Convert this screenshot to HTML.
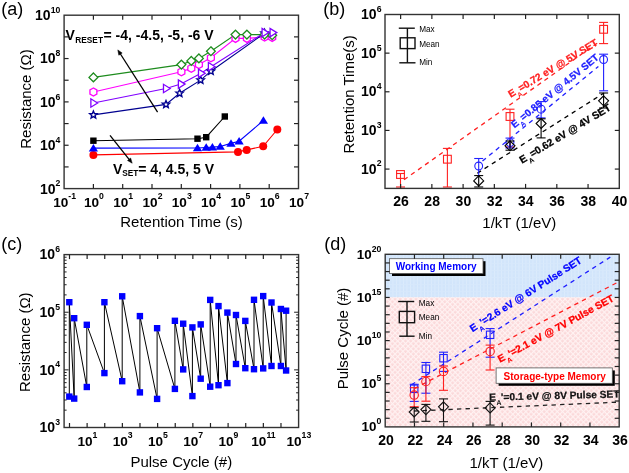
<!DOCTYPE html>
<html><head><meta charset="utf-8"><style>
html,body{margin:0;padding:0;background:#fff;}
svg{display:block;font-family:"Liberation Sans", sans-serif;filter:blur(0.3px);}
</style></head><body>
<svg width="629" height="473" viewBox="0 0 629 473" font-family='"Liberation Sans", sans-serif'>
<rect width="629" height="473" fill="#fff"/>
<text x="1.30" y="14.90" font-size="18" font-weight="normal" text-anchor="start" fill="#000" >(a)</text>
<polyline points="93.40,77.40 181.40,64.60 191.30,60.90 198.90,58.40 210.90,51.20 235.50,34.60 246.90,34.60 264.60,34.60 272.20,35.30" fill="none" stroke="#1e8c1e" stroke-width="1.1" stroke-linejoin="miter"/>
<polyline points="93.40,92.00 181.40,71.80 191.30,68.30 198.90,64.60 210.90,57.80 235.50,38.40 246.90,38.40 264.60,37.00 272.20,37.40" fill="none" stroke="#ff00ff" stroke-width="1.1" stroke-linejoin="miter"/>
<polyline points="93.40,114.90 166.00,104.40 179.60,93.30 200.60,80.10 210.90,71.20 264.60,33.20" fill="none" stroke="#000090" stroke-width="1.1" stroke-linejoin="miter"/>
<polyline points="93.40,103.00 166.00,88.50 180.90,84.10 201.00,73.30 210.90,66.70 264.60,32.60 272.60,32.60" fill="none" stroke="#8000ff" stroke-width="1.1" stroke-linejoin="miter"/>
<polygon points="93.40,111.00 92.37,113.48 89.69,113.69 91.73,115.44 91.11,118.06 93.40,116.66 95.69,118.06 95.07,115.44 97.11,113.69 94.43,113.48" fill="#fff" stroke="#000090" stroke-width="1.4" stroke-linejoin="miter"/>
<polygon points="166.00,100.50 164.97,102.98 162.29,103.19 164.33,104.94 163.71,107.56 166.00,106.16 168.29,107.56 167.67,104.94 169.71,103.19 167.03,102.98" fill="#fff" stroke="#000090" stroke-width="1.4" stroke-linejoin="miter"/>
<polygon points="179.60,89.40 178.57,91.88 175.89,92.09 177.93,93.84 177.31,96.46 179.60,95.05 181.89,96.46 181.27,93.84 183.31,92.09 180.63,91.88" fill="#fff" stroke="#000090" stroke-width="1.4" stroke-linejoin="miter"/>
<polygon points="200.60,76.20 199.57,78.68 196.89,78.89 198.93,80.64 198.31,83.26 200.60,81.85 202.89,83.26 202.27,80.64 204.31,78.89 201.63,78.68" fill="#fff" stroke="#000090" stroke-width="1.4" stroke-linejoin="miter"/>
<polygon points="210.90,67.30 209.87,69.78 207.19,69.99 209.23,71.74 208.61,74.36 210.90,72.95 213.19,74.36 212.57,71.74 214.61,69.99 211.93,69.78" fill="#fff" stroke="#000090" stroke-width="1.4" stroke-linejoin="miter"/>
<polygon points="264.60,29.30 263.57,31.78 260.89,31.99 262.93,33.74 262.31,36.36 264.60,34.96 266.89,36.36 266.27,33.74 268.31,31.99 265.63,31.78" fill="#fff" stroke="#000090" stroke-width="1.4" stroke-linejoin="miter"/>
<polygon points="93.40,88.00 89.94,90.00 89.94,94.00 93.40,96.00 96.86,94.00 96.86,90.00" fill="#fff" stroke="#ff00ff" stroke-width="1.3" stroke-linejoin="miter"/>
<polygon points="181.40,67.80 177.94,69.80 177.94,73.80 181.40,75.80 184.86,73.80 184.86,69.80" fill="#fff" stroke="#ff00ff" stroke-width="1.3" stroke-linejoin="miter"/>
<polygon points="191.30,64.30 187.84,66.30 187.84,70.30 191.30,72.30 194.76,70.30 194.76,66.30" fill="#fff" stroke="#ff00ff" stroke-width="1.3" stroke-linejoin="miter"/>
<polygon points="198.90,60.60 195.44,62.60 195.44,66.60 198.90,68.60 202.36,66.60 202.36,62.60" fill="#fff" stroke="#ff00ff" stroke-width="1.3" stroke-linejoin="miter"/>
<polygon points="210.90,53.80 207.44,55.80 207.44,59.80 210.90,61.80 214.36,59.80 214.36,55.80" fill="#fff" stroke="#ff00ff" stroke-width="1.3" stroke-linejoin="miter"/>
<polygon points="235.50,34.40 232.04,36.40 232.04,40.40 235.50,42.40 238.96,40.40 238.96,36.40" fill="#fff" stroke="#ff00ff" stroke-width="1.3" stroke-linejoin="miter"/>
<polygon points="246.90,34.40 243.44,36.40 243.44,40.40 246.90,42.40 250.36,40.40 250.36,36.40" fill="#fff" stroke="#ff00ff" stroke-width="1.3" stroke-linejoin="miter"/>
<polygon points="264.60,33.00 261.14,35.00 261.14,39.00 264.60,41.00 268.06,39.00 268.06,35.00" fill="#fff" stroke="#ff00ff" stroke-width="1.3" stroke-linejoin="miter"/>
<polygon points="272.20,33.40 268.74,35.40 268.74,39.40 272.20,41.40 275.66,39.40 275.66,35.40" fill="#fff" stroke="#ff00ff" stroke-width="1.3" stroke-linejoin="miter"/>
<polygon points="93.40,73.00 97.80,77.40 93.40,81.80 89.00,77.40" fill="#fff" stroke="#1e8c1e" stroke-width="1.3" stroke-linejoin="miter"/>
<polygon points="181.40,60.20 185.80,64.60 181.40,69.00 177.00,64.60" fill="#fff" stroke="#1e8c1e" stroke-width="1.3" stroke-linejoin="miter"/>
<polygon points="191.30,56.50 195.70,60.90 191.30,65.30 186.90,60.90" fill="#fff" stroke="#1e8c1e" stroke-width="1.3" stroke-linejoin="miter"/>
<polygon points="198.90,54.00 203.30,58.40 198.90,62.80 194.50,58.40" fill="#fff" stroke="#1e8c1e" stroke-width="1.3" stroke-linejoin="miter"/>
<polygon points="210.90,46.80 215.30,51.20 210.90,55.60 206.50,51.20" fill="#fff" stroke="#1e8c1e" stroke-width="1.3" stroke-linejoin="miter"/>
<polygon points="235.50,30.20 239.90,34.60 235.50,39.00 231.10,34.60" fill="#fff" stroke="#1e8c1e" stroke-width="1.3" stroke-linejoin="miter"/>
<polygon points="246.90,30.20 251.30,34.60 246.90,39.00 242.50,34.60" fill="#fff" stroke="#1e8c1e" stroke-width="1.3" stroke-linejoin="miter"/>
<polygon points="264.60,30.20 269.00,34.60 264.60,39.00 260.20,34.60" fill="#fff" stroke="#1e8c1e" stroke-width="1.3" stroke-linejoin="miter"/>
<polygon points="272.20,30.90 276.60,35.30 272.20,39.70 267.80,35.30" fill="#fff" stroke="#1e8c1e" stroke-width="1.3" stroke-linejoin="miter"/>
<polygon points="97.60,103.00 90.88,98.80 90.88,107.20" fill="#fff" stroke="#8000ff" stroke-width="1.3" stroke-linejoin="miter"/>
<polygon points="170.20,88.50 163.48,84.30 163.48,92.70" fill="#fff" stroke="#8000ff" stroke-width="1.3" stroke-linejoin="miter"/>
<polygon points="185.10,84.10 178.38,79.90 178.38,88.30" fill="#fff" stroke="#8000ff" stroke-width="1.3" stroke-linejoin="miter"/>
<polygon points="205.20,73.30 198.48,69.10 198.48,77.50" fill="#fff" stroke="#8000ff" stroke-width="1.3" stroke-linejoin="miter"/>
<polygon points="215.10,66.70 208.38,62.50 208.38,70.90" fill="#fff" stroke="#8000ff" stroke-width="1.3" stroke-linejoin="miter"/>
<polygon points="268.80,32.60 262.08,28.40 262.08,36.80" fill="#fff" stroke="#8000ff" stroke-width="1.3" stroke-linejoin="miter"/>
<polygon points="276.80,32.60 270.08,28.40 270.08,36.80" fill="#fff" stroke="#8000ff" stroke-width="1.3" stroke-linejoin="miter"/>
<polyline points="93.40,140.70 197.50,138.70 206.20,137.20 224.80,116.50" fill="none" stroke="#000" stroke-width="1.1" stroke-linejoin="miter"/>
<polyline points="93.40,148.10 197.50,148.00 206.20,147.50 212.40,147.10 220.20,146.50 231.00,143.40 239.10,141.20 263.40,120.50" fill="none" stroke="#0000ff" stroke-width="1.1" stroke-linejoin="miter"/>
<polyline points="93.40,154.90 238.00,151.90 246.70,149.90 263.20,146.30 277.30,129.50" fill="none" stroke="#ff0000" stroke-width="1.1" stroke-linejoin="miter"/>
<circle cx="93.40" cy="154.90" r="4.0" fill="#ff0000"/>
<circle cx="238.00" cy="151.90" r="4.0" fill="#ff0000"/>
<circle cx="246.70" cy="149.90" r="4.0" fill="#ff0000"/>
<circle cx="263.20" cy="146.30" r="4.0" fill="#ff0000"/>
<circle cx="277.30" cy="129.50" r="4.0" fill="#ff0000"/>
<polygon points="93.40,143.92 98.02,151.40 88.78,151.40" fill="#0000ff" stroke="none" stroke-width="0" stroke-linejoin="miter"/>
<polygon points="197.50,143.82 202.12,151.30 192.88,151.30" fill="#0000ff" stroke="none" stroke-width="0" stroke-linejoin="miter"/>
<polygon points="206.20,143.32 210.82,150.80 201.58,150.80" fill="#0000ff" stroke="none" stroke-width="0" stroke-linejoin="miter"/>
<polygon points="212.40,142.92 217.02,150.40 207.78,150.40" fill="#0000ff" stroke="none" stroke-width="0" stroke-linejoin="miter"/>
<polygon points="220.20,142.32 224.82,149.80 215.58,149.80" fill="#0000ff" stroke="none" stroke-width="0" stroke-linejoin="miter"/>
<polygon points="231.00,139.22 235.62,146.70 226.38,146.70" fill="#0000ff" stroke="none" stroke-width="0" stroke-linejoin="miter"/>
<polygon points="239.10,137.02 243.72,144.50 234.48,144.50" fill="#0000ff" stroke="none" stroke-width="0" stroke-linejoin="miter"/>
<polygon points="263.40,116.32 268.02,123.80 258.78,123.80" fill="#0000ff" stroke="none" stroke-width="0" stroke-linejoin="miter"/>
<rect x="90.20" y="137.50" width="6.4" height="6.4" fill="#000"/>
<rect x="194.30" y="135.50" width="6.4" height="6.4" fill="#000"/>
<rect x="203.00" y="134.00" width="6.4" height="6.4" fill="#000"/>
<rect x="221.60" y="113.30" width="6.4" height="6.4" fill="#000"/>
<line x1="157.60" y1="112.20" x2="119.95" y2="53.27" stroke="#000" stroke-width="1.3" />
<polygon points="117.80,49.90 122.18,53.04 118.81,55.19" fill="#000" stroke="#000" stroke-width="0.5" stroke-linejoin="miter"/>
<line x1="110.00" y1="135.40" x2="129.70" y2="160.07" stroke="#000" stroke-width="1.3" />
<polygon points="132.20,163.20 127.52,160.54 130.64,158.04" fill="#000" stroke="#000" stroke-width="0.5" stroke-linejoin="miter"/>
<text x="65.60" y="39.80" font-size="14" font-weight="bold" text-anchor="start" fill="#000" >V</text>
<text x="75.30" y="42.70" font-size="8.3" font-weight="bold" text-anchor="start" fill="#000" >RESET</text>
<text x="103.50" y="39.80" font-size="14" font-weight="bold" text-anchor="start" fill="#000" >= -4, -4.5, -5, -6 V</text>
<text x="113.00" y="173.50" font-size="14" font-weight="bold" text-anchor="start" fill="#000" >V</text>
<text x="122.30" y="176.30" font-size="8.3" font-weight="bold" text-anchor="start" fill="#000" >SET</text>
<text x="138.20" y="173.50" font-size="14" font-weight="bold" text-anchor="start" fill="#000" >= 4, 4.5, 5 V</text>
<rect x="64.10" y="15.20" width="234.40" height="173.40" fill="none" stroke="#333" stroke-width="1.4"/>
<line x1="93.40" y1="188.60" x2="93.40" y2="184.10" stroke="#222" stroke-width="1.2" />
<line x1="93.40" y1="15.20" x2="93.40" y2="19.70" stroke="#222" stroke-width="1.2" />
<line x1="122.70" y1="188.60" x2="122.70" y2="184.10" stroke="#222" stroke-width="1.2" />
<line x1="122.70" y1="15.20" x2="122.70" y2="19.70" stroke="#222" stroke-width="1.2" />
<line x1="152.00" y1="188.60" x2="152.00" y2="184.10" stroke="#222" stroke-width="1.2" />
<line x1="152.00" y1="15.20" x2="152.00" y2="19.70" stroke="#222" stroke-width="1.2" />
<line x1="181.30" y1="188.60" x2="181.30" y2="184.10" stroke="#222" stroke-width="1.2" />
<line x1="181.30" y1="15.20" x2="181.30" y2="19.70" stroke="#222" stroke-width="1.2" />
<line x1="210.60" y1="188.60" x2="210.60" y2="184.10" stroke="#222" stroke-width="1.2" />
<line x1="210.60" y1="15.20" x2="210.60" y2="19.70" stroke="#222" stroke-width="1.2" />
<line x1="239.90" y1="188.60" x2="239.90" y2="184.10" stroke="#222" stroke-width="1.2" />
<line x1="239.90" y1="15.20" x2="239.90" y2="19.70" stroke="#222" stroke-width="1.2" />
<line x1="269.20" y1="188.60" x2="269.20" y2="184.10" stroke="#222" stroke-width="1.2" />
<line x1="269.20" y1="15.20" x2="269.20" y2="19.70" stroke="#222" stroke-width="1.2" />
<line x1="64.10" y1="166.92" x2="68.60" y2="166.92" stroke="#222" stroke-width="1.2" />
<line x1="298.50" y1="166.92" x2="294.00" y2="166.92" stroke="#222" stroke-width="1.2" />
<line x1="64.10" y1="145.25" x2="68.60" y2="145.25" stroke="#222" stroke-width="1.2" />
<line x1="298.50" y1="145.25" x2="294.00" y2="145.25" stroke="#222" stroke-width="1.2" />
<line x1="64.10" y1="123.57" x2="68.60" y2="123.57" stroke="#222" stroke-width="1.2" />
<line x1="298.50" y1="123.57" x2="294.00" y2="123.57" stroke="#222" stroke-width="1.2" />
<line x1="64.10" y1="101.90" x2="68.60" y2="101.90" stroke="#222" stroke-width="1.2" />
<line x1="298.50" y1="101.90" x2="294.00" y2="101.90" stroke="#222" stroke-width="1.2" />
<line x1="64.10" y1="80.22" x2="68.60" y2="80.22" stroke="#222" stroke-width="1.2" />
<line x1="298.50" y1="80.22" x2="294.00" y2="80.22" stroke="#222" stroke-width="1.2" />
<line x1="64.10" y1="58.55" x2="68.60" y2="58.55" stroke="#222" stroke-width="1.2" />
<line x1="298.50" y1="58.55" x2="294.00" y2="58.55" stroke="#222" stroke-width="1.2" />
<line x1="64.10" y1="36.88" x2="68.60" y2="36.88" stroke="#222" stroke-width="1.2" />
<line x1="298.50" y1="36.88" x2="294.00" y2="36.88" stroke="#222" stroke-width="1.2" />
<text x="53.17" y="206.60" font-size="13.6" font-weight="bold" text-anchor="start" fill="#000" >10</text>
<text x="68.29" y="199.30" font-size="8.7" font-weight="bold" text-anchor="start" fill="#000" >-1</text>
<text x="83.92" y="206.60" font-size="13.6" font-weight="bold" text-anchor="start" fill="#000" >10</text>
<text x="99.04" y="199.30" font-size="8.7" font-weight="bold" text-anchor="start" fill="#000" >0</text>
<text x="113.22" y="206.60" font-size="13.6" font-weight="bold" text-anchor="start" fill="#000" >10</text>
<text x="128.34" y="199.30" font-size="8.7" font-weight="bold" text-anchor="start" fill="#000" >1</text>
<text x="142.52" y="206.60" font-size="13.6" font-weight="bold" text-anchor="start" fill="#000" >10</text>
<text x="157.64" y="199.30" font-size="8.7" font-weight="bold" text-anchor="start" fill="#000" >2</text>
<text x="171.82" y="206.60" font-size="13.6" font-weight="bold" text-anchor="start" fill="#000" >10</text>
<text x="186.94" y="199.30" font-size="8.7" font-weight="bold" text-anchor="start" fill="#000" >3</text>
<text x="201.12" y="206.60" font-size="13.6" font-weight="bold" text-anchor="start" fill="#000" >10</text>
<text x="216.24" y="199.30" font-size="8.7" font-weight="bold" text-anchor="start" fill="#000" >4</text>
<text x="230.42" y="206.60" font-size="13.6" font-weight="bold" text-anchor="start" fill="#000" >10</text>
<text x="245.54" y="199.30" font-size="8.7" font-weight="bold" text-anchor="start" fill="#000" >5</text>
<text x="259.72" y="206.60" font-size="13.6" font-weight="bold" text-anchor="start" fill="#000" >10</text>
<text x="274.84" y="199.30" font-size="8.7" font-weight="bold" text-anchor="start" fill="#000" >6</text>
<text x="289.02" y="206.60" font-size="13.6" font-weight="bold" text-anchor="start" fill="#000" >10</text>
<text x="304.14" y="199.30" font-size="8.7" font-weight="bold" text-anchor="start" fill="#000" >7</text>
<text x="39.89" y="193.50" font-size="14" font-weight="bold" text-anchor="start" fill="#000" >10</text>
<text x="55.46" y="186.20" font-size="8.7" font-weight="bold" text-anchor="start" fill="#000" >2</text>
<text x="39.89" y="150.15" font-size="14" font-weight="bold" text-anchor="start" fill="#000" >10</text>
<text x="55.46" y="142.85" font-size="8.7" font-weight="bold" text-anchor="start" fill="#000" >4</text>
<text x="39.89" y="106.80" font-size="14" font-weight="bold" text-anchor="start" fill="#000" >10</text>
<text x="55.46" y="99.50" font-size="8.7" font-weight="bold" text-anchor="start" fill="#000" >6</text>
<text x="39.89" y="63.45" font-size="14" font-weight="bold" text-anchor="start" fill="#000" >10</text>
<text x="55.46" y="56.15" font-size="8.7" font-weight="bold" text-anchor="start" fill="#000" >8</text>
<text x="35.06" y="20.10" font-size="14" font-weight="bold" text-anchor="start" fill="#000" >10</text>
<text x="50.63" y="12.80" font-size="8.7" font-weight="bold" text-anchor="start" fill="#000" >10</text>
<text x="181.50" y="227.30" font-size="15" font-weight="normal" text-anchor="middle" fill="#000" >Retention Time (s)</text>
<text x="31.00" y="99.00" font-size="15" font-weight="normal" text-anchor="middle" fill="#000" transform="rotate(-90 31.00 99.00)" >Resistance (Ω)</text>
<text x="323.20" y="14.90" font-size="18" font-weight="normal" text-anchor="start" fill="#000" >(b)</text>
<line x1="404.00" y1="179.80" x2="597.80" y2="42.70" stroke="#ff2020" stroke-width="1.3" stroke-dasharray="4.4,4.2" />
<line x1="482.50" y1="161.00" x2="598.40" y2="66.50" stroke="#2020ff" stroke-width="1.3" stroke-dasharray="4.4,4.2" />
<line x1="477.30" y1="173.20" x2="604.00" y2="93.00" stroke="#000" stroke-width="1.3" stroke-dasharray="4.4,4.2" />
<line x1="400.50" y1="173.50" x2="400.50" y2="187.00" stroke="#ff2020" stroke-width="1.1" />
<line x1="396.00" y1="173.50" x2="405.00" y2="173.50" stroke="#ff2020" stroke-width="1.1" />
<line x1="396.00" y1="187.00" x2="405.00" y2="187.00" stroke="#ff2020" stroke-width="1.1" />
<rect x="396.60" y="170.60" width="7.8" height="7.8" fill="none" stroke="#ff2020" stroke-width="1.1"/>
<line x1="447.40" y1="148.40" x2="447.40" y2="187.00" stroke="#ff2020" stroke-width="1.1" />
<line x1="442.90" y1="148.40" x2="451.90" y2="148.40" stroke="#ff2020" stroke-width="1.1" />
<line x1="442.90" y1="187.00" x2="451.90" y2="187.00" stroke="#ff2020" stroke-width="1.1" />
<rect x="443.50" y="155.30" width="7.8" height="7.8" fill="none" stroke="#ff2020" stroke-width="1.1"/>
<line x1="510.00" y1="109.20" x2="510.00" y2="147.00" stroke="#ff2020" stroke-width="1.1" />
<line x1="505.50" y1="109.20" x2="514.50" y2="109.20" stroke="#ff2020" stroke-width="1.1" />
<line x1="505.50" y1="147.00" x2="514.50" y2="147.00" stroke="#ff2020" stroke-width="1.1" />
<rect x="506.10" y="112.60" width="7.8" height="7.8" fill="none" stroke="#ff2020" stroke-width="1.1"/>
<line x1="603.60" y1="22.40" x2="603.60" y2="43.60" stroke="#ff2020" stroke-width="1.1" />
<line x1="599.10" y1="22.40" x2="608.10" y2="22.40" stroke="#ff2020" stroke-width="1.1" />
<line x1="599.10" y1="43.60" x2="608.10" y2="43.60" stroke="#ff2020" stroke-width="1.1" />
<rect x="599.70" y="25.40" width="7.8" height="7.8" fill="none" stroke="#ff2020" stroke-width="1.1"/>
<line x1="478.70" y1="158.50" x2="478.70" y2="175.50" stroke="#2020ff" stroke-width="1.1" />
<line x1="474.20" y1="158.50" x2="483.20" y2="158.50" stroke="#2020ff" stroke-width="1.1" />
<circle cx="478.70" cy="166.00" r="3.9" fill="none" stroke="#2020ff" stroke-width="1.1"/>
<line x1="510.00" y1="138.10" x2="510.00" y2="148.00" stroke="#2020ff" stroke-width="1.1" />
<line x1="505.50" y1="138.10" x2="514.50" y2="138.10" stroke="#2020ff" stroke-width="1.1" />
<line x1="505.50" y1="148.00" x2="514.50" y2="148.00" stroke="#2020ff" stroke-width="1.1" />
<circle cx="510.00" cy="142.60" r="3.9" fill="none" stroke="#2020ff" stroke-width="1.1"/>
<line x1="541.10" y1="101.60" x2="541.10" y2="117.90" stroke="#2020ff" stroke-width="1.1" />
<line x1="536.60" y1="101.60" x2="545.60" y2="101.60" stroke="#2020ff" stroke-width="1.1" />
<line x1="536.60" y1="117.90" x2="545.60" y2="117.90" stroke="#2020ff" stroke-width="1.1" />
<circle cx="541.10" cy="109.20" r="3.9" fill="none" stroke="#2020ff" stroke-width="1.1"/>
<line x1="603.60" y1="54.20" x2="603.60" y2="90.80" stroke="#2020ff" stroke-width="1.1" />
<line x1="599.10" y1="54.20" x2="608.10" y2="54.20" stroke="#2020ff" stroke-width="1.1" />
<line x1="599.10" y1="90.80" x2="608.10" y2="90.80" stroke="#2020ff" stroke-width="1.1" />
<circle cx="603.60" cy="59.50" r="3.9" fill="none" stroke="#2020ff" stroke-width="1.1"/>
<line x1="478.70" y1="175.60" x2="478.70" y2="187.00" stroke="#000" stroke-width="1.1" />
<line x1="474.20" y1="175.60" x2="483.20" y2="175.60" stroke="#000" stroke-width="1.1" />
<line x1="474.20" y1="187.00" x2="483.20" y2="187.00" stroke="#000" stroke-width="1.1" />
<polygon points="478.70,175.90 483.70,180.90 478.70,185.90 473.70,180.90" fill="none" stroke="#000" stroke-width="1.1" stroke-linejoin="miter"/>
<line x1="510.00" y1="141.00" x2="510.00" y2="150.20" stroke="#000" stroke-width="1.1" />
<line x1="505.50" y1="141.00" x2="514.50" y2="141.00" stroke="#000" stroke-width="1.1" />
<line x1="505.50" y1="150.20" x2="514.50" y2="150.20" stroke="#000" stroke-width="1.1" />
<polygon points="510.00,140.80 515.00,145.80 510.00,150.80 505.00,145.80" fill="none" stroke="#000" stroke-width="1.1" stroke-linejoin="miter"/>
<line x1="541.10" y1="118.80" x2="541.10" y2="137.90" stroke="#000" stroke-width="1.1" />
<line x1="536.60" y1="118.80" x2="545.60" y2="118.80" stroke="#000" stroke-width="1.1" />
<line x1="536.60" y1="137.90" x2="545.60" y2="137.90" stroke="#000" stroke-width="1.1" />
<polygon points="541.10,118.50 546.10,123.50 541.10,128.50 536.10,123.50" fill="none" stroke="#000" stroke-width="1.1" stroke-linejoin="miter"/>
<line x1="603.60" y1="93.00" x2="603.60" y2="108.00" stroke="#000" stroke-width="1.1" />
<line x1="599.10" y1="93.00" x2="608.10" y2="93.00" stroke="#000" stroke-width="1.1" />
<line x1="599.10" y1="108.00" x2="608.10" y2="108.00" stroke="#000" stroke-width="1.1" />
<polygon points="603.60,95.80 608.60,100.80 603.60,105.80 598.60,100.80" fill="none" stroke="#000" stroke-width="1.1" stroke-linejoin="miter"/>
<line x1="407.40" y1="28.20" x2="407.40" y2="62.80" stroke="#111" stroke-width="1.4" />
<line x1="398.80" y1="28.20" x2="414.80" y2="28.20" stroke="#111" stroke-width="1.4" />
<line x1="399.30" y1="62.80" x2="415.50" y2="62.80" stroke="#111" stroke-width="1.4" />
<rect x="400.2" y="37.8" width="14.8" height="10.8" fill="none" stroke="#111" stroke-width="1.4"/>
<text x="419.20" y="32.00" font-size="8.2" font-weight="normal" text-anchor="start" fill="#000" >Max</text>
<text x="419.20" y="46.60" font-size="8.2" font-weight="normal" text-anchor="start" fill="#000" >Mean</text>
<text x="419.20" y="64.90" font-size="8.2" font-weight="normal" text-anchor="start" fill="#000" >Min</text>
<g transform="translate(510.80 97.80) rotate(-31.2)">
<text x="0" y="0" font-size="10.1" font-weight="bold" fill="#ff2020" stroke="#ff2020" stroke-width="0.25">E</text>
<text x="7.07" y="4.24" font-size="6.87" font-weight="bold" fill="#ff2020">A</text>
<text x="11.72" y="0" font-size="10.1" font-weight="bold" fill="#ff2020" stroke="#ff2020" stroke-width="0.25">=0.72 eV @ 5V SET</text>
</g>
<g transform="translate(514.40 128.40) rotate(-39.3)">
<text x="0" y="0" font-size="10.0" font-weight="bold" fill="#2020ff" stroke="#2020ff" stroke-width="0.25">E</text>
<text x="7.00" y="4.20" font-size="6.80" font-weight="bold" fill="#2020ff">A</text>
<text x="11.60" y="0" font-size="10.0" font-weight="bold" fill="#2020ff" stroke="#2020ff" stroke-width="0.25">=0.85 eV @ 4.5V SET</text>
</g>
<g transform="translate(522.00 163.80) rotate(-31.2)">
<text x="0" y="0" font-size="10.3" font-weight="bold" fill="#000" stroke="#000" stroke-width="0.25">E</text>
<text x="7.21" y="4.33" font-size="7.00" font-weight="bold" fill="#000">A</text>
<text x="11.95" y="0" font-size="10.3" font-weight="bold" fill="#000" stroke="#000" stroke-width="0.25">=0.62 eV @ 4V SET</text>
</g>
<rect x="385.00" y="14.50" width="234.30" height="173.90" fill="none" stroke="#333" stroke-width="1.4"/>
<line x1="400.62" y1="188.40" x2="400.62" y2="183.90" stroke="#222" stroke-width="1.2" />
<line x1="400.62" y1="14.50" x2="400.62" y2="19.00" stroke="#222" stroke-width="1.2" />
<line x1="431.86" y1="188.40" x2="431.86" y2="183.90" stroke="#222" stroke-width="1.2" />
<line x1="431.86" y1="14.50" x2="431.86" y2="19.00" stroke="#222" stroke-width="1.2" />
<line x1="463.10" y1="188.40" x2="463.10" y2="183.90" stroke="#222" stroke-width="1.2" />
<line x1="463.10" y1="14.50" x2="463.10" y2="19.00" stroke="#222" stroke-width="1.2" />
<line x1="494.34" y1="188.40" x2="494.34" y2="183.90" stroke="#222" stroke-width="1.2" />
<line x1="494.34" y1="14.50" x2="494.34" y2="19.00" stroke="#222" stroke-width="1.2" />
<line x1="525.58" y1="188.40" x2="525.58" y2="183.90" stroke="#222" stroke-width="1.2" />
<line x1="525.58" y1="14.50" x2="525.58" y2="19.00" stroke="#222" stroke-width="1.2" />
<line x1="556.82" y1="188.40" x2="556.82" y2="183.90" stroke="#222" stroke-width="1.2" />
<line x1="556.82" y1="14.50" x2="556.82" y2="19.00" stroke="#222" stroke-width="1.2" />
<line x1="588.06" y1="188.40" x2="588.06" y2="183.90" stroke="#222" stroke-width="1.2" />
<line x1="588.06" y1="14.50" x2="588.06" y2="19.00" stroke="#222" stroke-width="1.2" />
<line x1="385.00" y1="169.08" x2="389.50" y2="169.08" stroke="#222" stroke-width="1.2" />
<line x1="619.30" y1="169.08" x2="614.80" y2="169.08" stroke="#222" stroke-width="1.2" />
<line x1="385.00" y1="130.43" x2="389.50" y2="130.43" stroke="#222" stroke-width="1.2" />
<line x1="619.30" y1="130.43" x2="614.80" y2="130.43" stroke="#222" stroke-width="1.2" />
<line x1="385.00" y1="91.79" x2="389.50" y2="91.79" stroke="#222" stroke-width="1.2" />
<line x1="619.30" y1="91.79" x2="614.80" y2="91.79" stroke="#222" stroke-width="1.2" />
<line x1="385.00" y1="53.14" x2="389.50" y2="53.14" stroke="#222" stroke-width="1.2" />
<line x1="619.30" y1="53.14" x2="614.80" y2="53.14" stroke="#222" stroke-width="1.2" />
<text x="400.92" y="205.60" font-size="14" font-weight="bold" text-anchor="middle" fill="#000" >26</text>
<text x="432.16" y="205.60" font-size="14" font-weight="bold" text-anchor="middle" fill="#000" >28</text>
<text x="463.40" y="205.60" font-size="14" font-weight="bold" text-anchor="middle" fill="#000" >30</text>
<text x="494.64" y="205.60" font-size="14" font-weight="bold" text-anchor="middle" fill="#000" >32</text>
<text x="525.88" y="205.60" font-size="14" font-weight="bold" text-anchor="middle" fill="#000" >34</text>
<text x="557.12" y="205.60" font-size="14" font-weight="bold" text-anchor="middle" fill="#000" >36</text>
<text x="588.36" y="205.60" font-size="14" font-weight="bold" text-anchor="middle" fill="#000" >38</text>
<text x="619.60" y="205.60" font-size="14" font-weight="bold" text-anchor="middle" fill="#000" >40</text>
<text x="361.09" y="173.78" font-size="14" font-weight="bold" text-anchor="start" fill="#000" >10</text>
<text x="376.66" y="166.48" font-size="8.7" font-weight="bold" text-anchor="start" fill="#000" >2</text>
<text x="361.09" y="135.13" font-size="14" font-weight="bold" text-anchor="start" fill="#000" >10</text>
<text x="376.66" y="127.83" font-size="8.7" font-weight="bold" text-anchor="start" fill="#000" >3</text>
<text x="361.09" y="96.49" font-size="14" font-weight="bold" text-anchor="start" fill="#000" >10</text>
<text x="376.66" y="89.19" font-size="8.7" font-weight="bold" text-anchor="start" fill="#000" >4</text>
<text x="361.09" y="57.84" font-size="14" font-weight="bold" text-anchor="start" fill="#000" >10</text>
<text x="376.66" y="50.54" font-size="8.7" font-weight="bold" text-anchor="start" fill="#000" >5</text>
<text x="361.09" y="19.20" font-size="14" font-weight="bold" text-anchor="start" fill="#000" >10</text>
<text x="376.66" y="11.90" font-size="8.7" font-weight="bold" text-anchor="start" fill="#000" >6</text>
<text x="519.30" y="227.50" font-size="15" font-weight="normal" text-anchor="middle" fill="#000" >1/kT (1/eV)</text>
<text x="353.80" y="94.40" font-size="15" font-weight="normal" text-anchor="middle" fill="#000" transform="rotate(-90 353.80 94.40)" >Retention Time(s)</text>
<text x="1.20" y="249.50" font-size="18" font-weight="normal" text-anchor="start" fill="#000" >(c)</text>
<polyline points="69.30,396.60 69.30,302.20 74.20,398.60 74.20,318.20 86.80,387.00 86.80,324.80 104.40,373.10 104.40,302.20 122.20,381.20 122.20,296.30 139.90,392.40 139.90,316.10 157.10,398.90 157.10,328.20 174.90,388.90 174.90,320.80 183.20,369.40 183.20,323.70 192.40,396.10 192.40,327.40 200.70,378.70 200.70,324.40 210.20,386.70 210.20,299.90 218.50,385.20 218.50,306.10 227.40,383.10 227.40,312.60 236.00,364.00 236.00,315.00 245.30,368.20 245.30,320.90 254.00,369.20 254.00,299.80 263.20,368.40 263.20,296.10 271.50,366.00 271.50,302.50 280.90,366.00 280.90,309.00 286.10,370.50 286.10,310.70" fill="none" stroke="#000" stroke-width="1.0" stroke-linejoin="miter"/>
<rect x="66.10" y="299.00" width="6.4" height="6.4" fill="#0000ff"/>
<rect x="66.10" y="393.40" width="6.4" height="6.4" fill="#0000ff"/>
<rect x="71.00" y="315.00" width="6.4" height="6.4" fill="#0000ff"/>
<rect x="71.00" y="395.40" width="6.4" height="6.4" fill="#0000ff"/>
<rect x="83.60" y="321.60" width="6.4" height="6.4" fill="#0000ff"/>
<rect x="83.60" y="383.80" width="6.4" height="6.4" fill="#0000ff"/>
<rect x="101.20" y="299.00" width="6.4" height="6.4" fill="#0000ff"/>
<rect x="101.20" y="369.90" width="6.4" height="6.4" fill="#0000ff"/>
<rect x="119.00" y="293.10" width="6.4" height="6.4" fill="#0000ff"/>
<rect x="119.00" y="378.00" width="6.4" height="6.4" fill="#0000ff"/>
<rect x="136.70" y="312.90" width="6.4" height="6.4" fill="#0000ff"/>
<rect x="136.70" y="389.20" width="6.4" height="6.4" fill="#0000ff"/>
<rect x="153.90" y="325.00" width="6.4" height="6.4" fill="#0000ff"/>
<rect x="153.90" y="395.70" width="6.4" height="6.4" fill="#0000ff"/>
<rect x="171.70" y="317.60" width="6.4" height="6.4" fill="#0000ff"/>
<rect x="171.70" y="385.70" width="6.4" height="6.4" fill="#0000ff"/>
<rect x="180.00" y="320.50" width="6.4" height="6.4" fill="#0000ff"/>
<rect x="180.00" y="366.20" width="6.4" height="6.4" fill="#0000ff"/>
<rect x="189.20" y="324.20" width="6.4" height="6.4" fill="#0000ff"/>
<rect x="189.20" y="392.90" width="6.4" height="6.4" fill="#0000ff"/>
<rect x="197.50" y="321.20" width="6.4" height="6.4" fill="#0000ff"/>
<rect x="197.50" y="375.50" width="6.4" height="6.4" fill="#0000ff"/>
<rect x="207.00" y="296.70" width="6.4" height="6.4" fill="#0000ff"/>
<rect x="207.00" y="383.50" width="6.4" height="6.4" fill="#0000ff"/>
<rect x="215.30" y="302.90" width="6.4" height="6.4" fill="#0000ff"/>
<rect x="215.30" y="382.00" width="6.4" height="6.4" fill="#0000ff"/>
<rect x="224.20" y="309.40" width="6.4" height="6.4" fill="#0000ff"/>
<rect x="224.20" y="379.90" width="6.4" height="6.4" fill="#0000ff"/>
<rect x="232.80" y="311.80" width="6.4" height="6.4" fill="#0000ff"/>
<rect x="232.80" y="360.80" width="6.4" height="6.4" fill="#0000ff"/>
<rect x="242.10" y="317.70" width="6.4" height="6.4" fill="#0000ff"/>
<rect x="242.10" y="365.00" width="6.4" height="6.4" fill="#0000ff"/>
<rect x="250.80" y="296.60" width="6.4" height="6.4" fill="#0000ff"/>
<rect x="250.80" y="366.00" width="6.4" height="6.4" fill="#0000ff"/>
<rect x="260.00" y="292.90" width="6.4" height="6.4" fill="#0000ff"/>
<rect x="260.00" y="365.20" width="6.4" height="6.4" fill="#0000ff"/>
<rect x="268.30" y="299.30" width="6.4" height="6.4" fill="#0000ff"/>
<rect x="268.30" y="362.80" width="6.4" height="6.4" fill="#0000ff"/>
<rect x="277.70" y="305.80" width="6.4" height="6.4" fill="#0000ff"/>
<rect x="277.70" y="362.80" width="6.4" height="6.4" fill="#0000ff"/>
<rect x="282.90" y="307.50" width="6.4" height="6.4" fill="#0000ff"/>
<rect x="282.90" y="367.30" width="6.4" height="6.4" fill="#0000ff"/>
<rect x="64.10" y="254.60" width="234.50" height="172.90" fill="none" stroke="#333" stroke-width="1.4"/>
<line x1="69.50" y1="427.50" x2="69.50" y2="423.00" stroke="#222" stroke-width="1.2" />
<line x1="69.50" y1="254.60" x2="69.50" y2="259.10" stroke="#222" stroke-width="1.2" />
<line x1="87.12" y1="427.50" x2="87.12" y2="423.00" stroke="#222" stroke-width="1.2" />
<line x1="87.12" y1="254.60" x2="87.12" y2="259.10" stroke="#222" stroke-width="1.2" />
<line x1="104.75" y1="427.50" x2="104.75" y2="423.00" stroke="#222" stroke-width="1.2" />
<line x1="104.75" y1="254.60" x2="104.75" y2="259.10" stroke="#222" stroke-width="1.2" />
<line x1="122.37" y1="427.50" x2="122.37" y2="423.00" stroke="#222" stroke-width="1.2" />
<line x1="122.37" y1="254.60" x2="122.37" y2="259.10" stroke="#222" stroke-width="1.2" />
<line x1="139.99" y1="427.50" x2="139.99" y2="423.00" stroke="#222" stroke-width="1.2" />
<line x1="139.99" y1="254.60" x2="139.99" y2="259.10" stroke="#222" stroke-width="1.2" />
<line x1="157.62" y1="427.50" x2="157.62" y2="423.00" stroke="#222" stroke-width="1.2" />
<line x1="157.62" y1="254.60" x2="157.62" y2="259.10" stroke="#222" stroke-width="1.2" />
<line x1="175.24" y1="427.50" x2="175.24" y2="423.00" stroke="#222" stroke-width="1.2" />
<line x1="175.24" y1="254.60" x2="175.24" y2="259.10" stroke="#222" stroke-width="1.2" />
<line x1="192.86" y1="427.50" x2="192.86" y2="423.00" stroke="#222" stroke-width="1.2" />
<line x1="192.86" y1="254.60" x2="192.86" y2="259.10" stroke="#222" stroke-width="1.2" />
<line x1="210.48" y1="427.50" x2="210.48" y2="423.00" stroke="#222" stroke-width="1.2" />
<line x1="210.48" y1="254.60" x2="210.48" y2="259.10" stroke="#222" stroke-width="1.2" />
<line x1="228.11" y1="427.50" x2="228.11" y2="423.00" stroke="#222" stroke-width="1.2" />
<line x1="228.11" y1="254.60" x2="228.11" y2="259.10" stroke="#222" stroke-width="1.2" />
<line x1="245.73" y1="427.50" x2="245.73" y2="423.00" stroke="#222" stroke-width="1.2" />
<line x1="245.73" y1="254.60" x2="245.73" y2="259.10" stroke="#222" stroke-width="1.2" />
<line x1="263.35" y1="427.50" x2="263.35" y2="423.00" stroke="#222" stroke-width="1.2" />
<line x1="263.35" y1="254.60" x2="263.35" y2="259.10" stroke="#222" stroke-width="1.2" />
<line x1="280.98" y1="427.50" x2="280.98" y2="423.00" stroke="#222" stroke-width="1.2" />
<line x1="280.98" y1="254.60" x2="280.98" y2="259.10" stroke="#222" stroke-width="1.2" />
<line x1="64.10" y1="410.15" x2="66.60" y2="410.15" stroke="#222" stroke-width="1.0" />
<line x1="298.60" y1="410.15" x2="296.10" y2="410.15" stroke="#222" stroke-width="1.0" />
<line x1="64.10" y1="400.00" x2="66.60" y2="400.00" stroke="#222" stroke-width="1.0" />
<line x1="298.60" y1="400.00" x2="296.10" y2="400.00" stroke="#222" stroke-width="1.0" />
<line x1="64.10" y1="392.80" x2="66.60" y2="392.80" stroke="#222" stroke-width="1.0" />
<line x1="298.60" y1="392.80" x2="296.10" y2="392.80" stroke="#222" stroke-width="1.0" />
<line x1="64.10" y1="387.22" x2="66.60" y2="387.22" stroke="#222" stroke-width="1.0" />
<line x1="298.60" y1="387.22" x2="296.10" y2="387.22" stroke="#222" stroke-width="1.0" />
<line x1="64.10" y1="382.65" x2="66.60" y2="382.65" stroke="#222" stroke-width="1.0" />
<line x1="298.60" y1="382.65" x2="296.10" y2="382.65" stroke="#222" stroke-width="1.0" />
<line x1="64.10" y1="378.79" x2="66.60" y2="378.79" stroke="#222" stroke-width="1.0" />
<line x1="298.60" y1="378.79" x2="296.10" y2="378.79" stroke="#222" stroke-width="1.0" />
<line x1="64.10" y1="375.45" x2="66.60" y2="375.45" stroke="#222" stroke-width="1.0" />
<line x1="298.60" y1="375.45" x2="296.10" y2="375.45" stroke="#222" stroke-width="1.0" />
<line x1="64.10" y1="372.50" x2="66.60" y2="372.50" stroke="#222" stroke-width="1.0" />
<line x1="298.60" y1="372.50" x2="296.10" y2="372.50" stroke="#222" stroke-width="1.0" />
<line x1="64.10" y1="369.87" x2="68.60" y2="369.87" stroke="#222" stroke-width="1.0" />
<line x1="298.60" y1="369.87" x2="294.10" y2="369.87" stroke="#222" stroke-width="1.0" />
<line x1="64.10" y1="352.52" x2="66.60" y2="352.52" stroke="#222" stroke-width="1.0" />
<line x1="298.60" y1="352.52" x2="296.10" y2="352.52" stroke="#222" stroke-width="1.0" />
<line x1="64.10" y1="342.37" x2="66.60" y2="342.37" stroke="#222" stroke-width="1.0" />
<line x1="298.60" y1="342.37" x2="296.10" y2="342.37" stroke="#222" stroke-width="1.0" />
<line x1="64.10" y1="335.17" x2="66.60" y2="335.17" stroke="#222" stroke-width="1.0" />
<line x1="298.60" y1="335.17" x2="296.10" y2="335.17" stroke="#222" stroke-width="1.0" />
<line x1="64.10" y1="329.58" x2="66.60" y2="329.58" stroke="#222" stroke-width="1.0" />
<line x1="298.60" y1="329.58" x2="296.10" y2="329.58" stroke="#222" stroke-width="1.0" />
<line x1="64.10" y1="325.02" x2="66.60" y2="325.02" stroke="#222" stroke-width="1.0" />
<line x1="298.60" y1="325.02" x2="296.10" y2="325.02" stroke="#222" stroke-width="1.0" />
<line x1="64.10" y1="321.16" x2="66.60" y2="321.16" stroke="#222" stroke-width="1.0" />
<line x1="298.60" y1="321.16" x2="296.10" y2="321.16" stroke="#222" stroke-width="1.0" />
<line x1="64.10" y1="317.82" x2="66.60" y2="317.82" stroke="#222" stroke-width="1.0" />
<line x1="298.60" y1="317.82" x2="296.10" y2="317.82" stroke="#222" stroke-width="1.0" />
<line x1="64.10" y1="314.87" x2="66.60" y2="314.87" stroke="#222" stroke-width="1.0" />
<line x1="298.60" y1="314.87" x2="296.10" y2="314.87" stroke="#222" stroke-width="1.0" />
<line x1="64.10" y1="312.23" x2="68.60" y2="312.23" stroke="#222" stroke-width="1.0" />
<line x1="298.60" y1="312.23" x2="294.10" y2="312.23" stroke="#222" stroke-width="1.0" />
<line x1="64.10" y1="294.88" x2="66.60" y2="294.88" stroke="#222" stroke-width="1.0" />
<line x1="298.60" y1="294.88" x2="296.10" y2="294.88" stroke="#222" stroke-width="1.0" />
<line x1="64.10" y1="284.74" x2="66.60" y2="284.74" stroke="#222" stroke-width="1.0" />
<line x1="298.60" y1="284.74" x2="296.10" y2="284.74" stroke="#222" stroke-width="1.0" />
<line x1="64.10" y1="277.53" x2="66.60" y2="277.53" stroke="#222" stroke-width="1.0" />
<line x1="298.60" y1="277.53" x2="296.10" y2="277.53" stroke="#222" stroke-width="1.0" />
<line x1="64.10" y1="271.95" x2="66.60" y2="271.95" stroke="#222" stroke-width="1.0" />
<line x1="298.60" y1="271.95" x2="296.10" y2="271.95" stroke="#222" stroke-width="1.0" />
<line x1="64.10" y1="267.39" x2="66.60" y2="267.39" stroke="#222" stroke-width="1.0" />
<line x1="298.60" y1="267.39" x2="296.10" y2="267.39" stroke="#222" stroke-width="1.0" />
<line x1="64.10" y1="263.53" x2="66.60" y2="263.53" stroke="#222" stroke-width="1.0" />
<line x1="298.60" y1="263.53" x2="296.10" y2="263.53" stroke="#222" stroke-width="1.0" />
<line x1="64.10" y1="260.19" x2="66.60" y2="260.19" stroke="#222" stroke-width="1.0" />
<line x1="298.60" y1="260.19" x2="296.10" y2="260.19" stroke="#222" stroke-width="1.0" />
<line x1="64.10" y1="257.24" x2="66.60" y2="257.24" stroke="#222" stroke-width="1.0" />
<line x1="298.60" y1="257.24" x2="296.10" y2="257.24" stroke="#222" stroke-width="1.0" />
<text x="77.44" y="445.60" font-size="13.6" font-weight="bold" text-anchor="start" fill="#000" >10</text>
<text x="92.57" y="438.30" font-size="8.7" font-weight="bold" text-anchor="start" fill="#000" >1</text>
<text x="112.69" y="445.60" font-size="13.6" font-weight="bold" text-anchor="start" fill="#000" >10</text>
<text x="127.81" y="438.30" font-size="8.7" font-weight="bold" text-anchor="start" fill="#000" >3</text>
<text x="147.94" y="445.60" font-size="13.6" font-weight="bold" text-anchor="start" fill="#000" >10</text>
<text x="163.06" y="438.30" font-size="8.7" font-weight="bold" text-anchor="start" fill="#000" >5</text>
<text x="183.18" y="445.60" font-size="13.6" font-weight="bold" text-anchor="start" fill="#000" >10</text>
<text x="198.30" y="438.30" font-size="8.7" font-weight="bold" text-anchor="start" fill="#000" >7</text>
<text x="218.43" y="445.60" font-size="13.6" font-weight="bold" text-anchor="start" fill="#000" >10</text>
<text x="233.55" y="438.30" font-size="8.7" font-weight="bold" text-anchor="start" fill="#000" >9</text>
<text x="251.26" y="445.60" font-size="13.6" font-weight="bold" text-anchor="start" fill="#000" >10</text>
<text x="266.38" y="438.30" font-size="8.7" font-weight="bold" text-anchor="start" fill="#000" >11</text>
<text x="286.50" y="445.60" font-size="13.6" font-weight="bold" text-anchor="start" fill="#000" >10</text>
<text x="301.62" y="438.30" font-size="8.7" font-weight="bold" text-anchor="start" fill="#000" >13</text>
<text x="39.59" y="432.20" font-size="14" font-weight="bold" text-anchor="start" fill="#000" >10</text>
<text x="55.16" y="424.90" font-size="8.7" font-weight="bold" text-anchor="start" fill="#000" >3</text>
<text x="39.59" y="374.57" font-size="14" font-weight="bold" text-anchor="start" fill="#000" >10</text>
<text x="55.16" y="367.27" font-size="8.7" font-weight="bold" text-anchor="start" fill="#000" >4</text>
<text x="39.59" y="316.93" font-size="14" font-weight="bold" text-anchor="start" fill="#000" >10</text>
<text x="55.16" y="309.63" font-size="8.7" font-weight="bold" text-anchor="start" fill="#000" >5</text>
<text x="39.59" y="259.30" font-size="14" font-weight="bold" text-anchor="start" fill="#000" >10</text>
<text x="55.16" y="252.00" font-size="8.7" font-weight="bold" text-anchor="start" fill="#000" >6</text>
<text x="181.30" y="466.70" font-size="15" font-weight="normal" text-anchor="middle" fill="#000" >Pulse Cycle (#)</text>
<text x="30.00" y="342.20" font-size="15" font-weight="normal" text-anchor="middle" fill="#000" transform="rotate(-90 30.00 342.20)" >Resistance (Ω)</text>
<text x="324.30" y="249.60" font-size="18" font-weight="normal" text-anchor="start" fill="#000" >(d)</text>
<defs><pattern id="pb" x="0.5" y="0.5" width="3.5" height="3.5" patternUnits="userSpaceOnUse"><rect width="3.5" height="3.5" fill="#d2e5fb"/><rect width="0.9" height="3.5" fill="#dcebfc"/><rect width="3.5" height="0.7" fill="#d8e9fc"/></pattern><pattern id="pp" width="3.7" height="3.7" patternUnits="userSpaceOnUse" patternTransform="rotate(45)"><rect width="3.7" height="3.7" fill="#fbd9da"/><rect width="1.2" height="3.7" fill="#fff2f2"/><rect width="3.7" height="1.2" fill="#fff2f2"/></pattern></defs>
<rect x="385.2" y="254.3" width="234.00000000000006" height="43.14999999999998" fill="url(#pb)"/>
<rect x="385.2" y="297.45" width="234.00000000000006" height="129.45" fill="url(#pp)"/>
<line x1="411.40" y1="384.80" x2="610.30" y2="257.10" stroke="#2020ff" stroke-width="1.3" stroke-dasharray="4.4,4.2" />
<line x1="414.30" y1="388.60" x2="619.00" y2="281.60" stroke="#ff2020" stroke-width="1.3" stroke-dasharray="4.4,4.2" />
<line x1="414.00" y1="411.00" x2="619.00" y2="402.10" stroke="#222" stroke-width="1.3" stroke-dasharray="4.4,4.2" />
<line x1="414.20" y1="384.30" x2="414.20" y2="401.40" stroke="#2020ff" stroke-width="1.1" />
<line x1="409.70" y1="384.30" x2="418.70" y2="384.30" stroke="#2020ff" stroke-width="1.1" />
<line x1="409.70" y1="401.40" x2="418.70" y2="401.40" stroke="#2020ff" stroke-width="1.1" />
<rect x="410.50" y="385.10" width="7.4" height="7.4" fill="none" stroke="#2020ff" stroke-width="1.1"/>
<line x1="425.90" y1="362.50" x2="425.90" y2="393.20" stroke="#2020ff" stroke-width="1.1" />
<line x1="421.40" y1="362.50" x2="430.40" y2="362.50" stroke="#2020ff" stroke-width="1.1" />
<line x1="421.40" y1="393.20" x2="430.40" y2="393.20" stroke="#2020ff" stroke-width="1.1" />
<rect x="422.20" y="365.10" width="7.4" height="7.4" fill="none" stroke="#2020ff" stroke-width="1.1"/>
<line x1="443.50" y1="352.20" x2="443.50" y2="371.40" stroke="#2020ff" stroke-width="1.1" />
<line x1="439.00" y1="352.20" x2="448.00" y2="352.20" stroke="#2020ff" stroke-width="1.1" />
<line x1="439.00" y1="371.40" x2="448.00" y2="371.40" stroke="#2020ff" stroke-width="1.1" />
<rect x="439.80" y="354.50" width="7.4" height="7.4" fill="none" stroke="#2020ff" stroke-width="1.1"/>
<line x1="490.10" y1="328.60" x2="490.10" y2="357.20" stroke="#2020ff" stroke-width="1.1" />
<line x1="485.60" y1="328.60" x2="494.60" y2="328.60" stroke="#2020ff" stroke-width="1.1" />
<line x1="485.60" y1="357.20" x2="494.60" y2="357.20" stroke="#2020ff" stroke-width="1.1" />
<rect x="486.40" y="331.10" width="7.4" height="7.4" fill="none" stroke="#2020ff" stroke-width="1.1"/>
<line x1="414.20" y1="387.70" x2="414.20" y2="406.70" stroke="#ff2020" stroke-width="1.1" />
<line x1="409.70" y1="387.70" x2="418.70" y2="387.70" stroke="#ff2020" stroke-width="1.1" />
<line x1="409.70" y1="406.70" x2="418.70" y2="406.70" stroke="#ff2020" stroke-width="1.1" />
<circle cx="414.20" cy="395.10" r="4.2" fill="none" stroke="#ff2020" stroke-width="1.1"/>
<line x1="425.90" y1="376.60" x2="425.90" y2="401.20" stroke="#ff2020" stroke-width="1.1" />
<line x1="421.40" y1="376.60" x2="430.40" y2="376.60" stroke="#ff2020" stroke-width="1.1" />
<line x1="421.40" y1="401.20" x2="430.40" y2="401.20" stroke="#ff2020" stroke-width="1.1" />
<circle cx="425.90" cy="381.50" r="4.2" fill="none" stroke="#ff2020" stroke-width="1.1"/>
<line x1="443.50" y1="366.00" x2="443.50" y2="390.30" stroke="#ff2020" stroke-width="1.1" />
<line x1="439.00" y1="366.00" x2="448.00" y2="366.00" stroke="#ff2020" stroke-width="1.1" />
<line x1="439.00" y1="390.30" x2="448.00" y2="390.30" stroke="#ff2020" stroke-width="1.1" />
<circle cx="443.50" cy="371.40" r="4.2" fill="none" stroke="#ff2020" stroke-width="1.1"/>
<line x1="490.10" y1="345.10" x2="490.10" y2="370.00" stroke="#ff2020" stroke-width="1.1" />
<line x1="485.60" y1="345.10" x2="494.60" y2="345.10" stroke="#ff2020" stroke-width="1.1" />
<line x1="485.60" y1="370.00" x2="494.60" y2="370.00" stroke="#ff2020" stroke-width="1.1" />
<circle cx="490.10" cy="351.40" r="4.2" fill="none" stroke="#ff2020" stroke-width="1.1"/>
<line x1="414.20" y1="407.70" x2="414.20" y2="422.00" stroke="#111" stroke-width="1.1" />
<line x1="409.70" y1="407.70" x2="418.70" y2="407.70" stroke="#111" stroke-width="1.1" />
<line x1="409.70" y1="422.00" x2="418.70" y2="422.00" stroke="#111" stroke-width="1.1" />
<polygon points="414.20,407.00 419.20,412.00 414.20,417.00 409.20,412.00" fill="none" stroke="#111" stroke-width="1.1" stroke-linejoin="miter"/>
<line x1="425.90" y1="404.40" x2="425.90" y2="421.30" stroke="#111" stroke-width="1.1" />
<line x1="421.40" y1="404.40" x2="430.40" y2="404.40" stroke="#111" stroke-width="1.1" />
<line x1="421.40" y1="421.30" x2="430.40" y2="421.30" stroke="#111" stroke-width="1.1" />
<polygon points="425.90,404.60 430.90,409.60 425.90,414.60 420.90,409.60" fill="none" stroke="#111" stroke-width="1.1" stroke-linejoin="miter"/>
<line x1="443.50" y1="398.90" x2="443.50" y2="421.70" stroke="#111" stroke-width="1.1" />
<line x1="439.00" y1="398.90" x2="448.00" y2="398.90" stroke="#111" stroke-width="1.1" />
<line x1="439.00" y1="421.70" x2="448.00" y2="421.70" stroke="#111" stroke-width="1.1" />
<polygon points="443.50,401.80 448.50,406.80 443.50,411.80 438.50,406.80" fill="none" stroke="#111" stroke-width="1.1" stroke-linejoin="miter"/>
<line x1="490.10" y1="401.40" x2="490.10" y2="425.10" stroke="#111" stroke-width="1.1" />
<line x1="485.60" y1="401.40" x2="494.60" y2="401.40" stroke="#111" stroke-width="1.1" />
<line x1="485.60" y1="425.10" x2="494.60" y2="425.10" stroke="#111" stroke-width="1.1" />
<polygon points="490.10,402.90 495.10,407.90 490.10,412.90 485.10,407.90" fill="none" stroke="#111" stroke-width="1.1" stroke-linejoin="miter"/>
<rect x="392.00" y="261.20" width="93.50" height="14.80" fill="#000"/>
<rect x="389.50" y="258.70" width="93.50" height="14.80" fill="#fff" stroke="#555" stroke-width="0.8"/>
<text x="395.70" y="269.90" font-size="10" font-weight="bold" text-anchor="start" fill="#0000ff" >Working Memory</text>
<rect x="498.60" y="370.40" width="116.20" height="15.40" fill="#000"/>
<rect x="496.10" y="367.90" width="116.20" height="15.40" fill="#fff" stroke="#555" stroke-width="0.8"/>
<text x="503.60" y="379.80" font-size="10" font-weight="bold" text-anchor="start" fill="#ff0000" >Storage-type Memory</text>
<line x1="407.00" y1="301.50" x2="407.00" y2="336.20" stroke="#111" stroke-width="1.4" />
<line x1="398.20" y1="301.50" x2="414.20" y2="301.50" stroke="#111" stroke-width="1.4" />
<line x1="399.30" y1="336.20" x2="414.60" y2="336.20" stroke="#111" stroke-width="1.4" />
<rect x="399.3" y="311.4" width="15.3" height="11.3" fill="none" stroke="#111" stroke-width="1.4"/>
<text x="418.80" y="306.00" font-size="8.2" font-weight="normal" text-anchor="start" fill="#000" >Max</text>
<text x="418.80" y="320.30" font-size="8.2" font-weight="normal" text-anchor="start" fill="#000" >Mean</text>
<text x="418.80" y="339.30" font-size="8.2" font-weight="normal" text-anchor="start" fill="#000" >Min</text>
<g transform="translate(472.60 332.20) rotate(-32.5)">
<text x="0" y="0" font-size="10.2" font-weight="bold" fill="#0000ff" stroke="#0000ff" stroke-width="0.25">E</text>
<text x="7.14" y="4.28" font-size="6.94" font-weight="bold" fill="#0000ff">A</text>
<text x="11.83" y="0" font-size="10.2" font-weight="bold" fill="#0000ff" stroke="#0000ff" stroke-width="0.25">'=2.6 eV @ 6V Pulse SET</text>
</g>
<g transform="translate(500.10 362.80) rotate(-28.5)">
<text x="0" y="0" font-size="10.2" font-weight="bold" fill="#ff0000" stroke="#ff0000" stroke-width="0.25">E</text>
<text x="7.14" y="4.28" font-size="6.94" font-weight="bold" fill="#ff0000">A</text>
<text x="11.83" y="0" font-size="10.2" font-weight="bold" fill="#ff0000" stroke="#ff0000" stroke-width="0.25">'=2.1 eV @ 7V Pulse SET</text>
</g>
<g transform="translate(489.30 400.80) rotate(-1.5)">
<text x="0" y="0" font-size="10.2" font-weight="bold" fill="#111" stroke="#111" stroke-width="0.25">E</text>
<text x="7.14" y="4.28" font-size="6.94" font-weight="bold" fill="#111">A</text>
<text x="11.83" y="0" font-size="10.2" font-weight="bold" fill="#111" stroke="#111" stroke-width="0.25">'=0.1 eV @ 8V Pulse SET</text>
</g>
<rect x="385.20" y="254.30" width="234.00" height="172.60" fill="none" stroke="#333" stroke-width="1.4"/>
<line x1="414.45" y1="426.90" x2="414.45" y2="422.40" stroke="#222" stroke-width="1.2" />
<line x1="414.45" y1="254.30" x2="414.45" y2="258.80" stroke="#222" stroke-width="1.2" />
<line x1="443.70" y1="426.90" x2="443.70" y2="422.40" stroke="#222" stroke-width="1.2" />
<line x1="443.70" y1="254.30" x2="443.70" y2="258.80" stroke="#222" stroke-width="1.2" />
<line x1="472.95" y1="426.90" x2="472.95" y2="422.40" stroke="#222" stroke-width="1.2" />
<line x1="472.95" y1="254.30" x2="472.95" y2="258.80" stroke="#222" stroke-width="1.2" />
<line x1="502.20" y1="426.90" x2="502.20" y2="422.40" stroke="#222" stroke-width="1.2" />
<line x1="502.20" y1="254.30" x2="502.20" y2="258.80" stroke="#222" stroke-width="1.2" />
<line x1="531.45" y1="426.90" x2="531.45" y2="422.40" stroke="#222" stroke-width="1.2" />
<line x1="531.45" y1="254.30" x2="531.45" y2="258.80" stroke="#222" stroke-width="1.2" />
<line x1="560.70" y1="426.90" x2="560.70" y2="422.40" stroke="#222" stroke-width="1.2" />
<line x1="560.70" y1="254.30" x2="560.70" y2="258.80" stroke="#222" stroke-width="1.2" />
<line x1="589.95" y1="426.90" x2="589.95" y2="422.40" stroke="#222" stroke-width="1.2" />
<line x1="589.95" y1="254.30" x2="589.95" y2="258.80" stroke="#222" stroke-width="1.2" />
<line x1="385.20" y1="418.27" x2="389.70" y2="418.27" stroke="#222" stroke-width="1.2" />
<line x1="619.20" y1="418.27" x2="614.70" y2="418.27" stroke="#222" stroke-width="1.2" />
<line x1="385.20" y1="409.64" x2="389.70" y2="409.64" stroke="#222" stroke-width="1.2" />
<line x1="619.20" y1="409.64" x2="614.70" y2="409.64" stroke="#222" stroke-width="1.2" />
<line x1="385.20" y1="401.01" x2="389.70" y2="401.01" stroke="#222" stroke-width="1.2" />
<line x1="619.20" y1="401.01" x2="614.70" y2="401.01" stroke="#222" stroke-width="1.2" />
<line x1="385.20" y1="392.38" x2="389.70" y2="392.38" stroke="#222" stroke-width="1.2" />
<line x1="619.20" y1="392.38" x2="614.70" y2="392.38" stroke="#222" stroke-width="1.2" />
<line x1="385.20" y1="383.75" x2="389.70" y2="383.75" stroke="#222" stroke-width="1.2" />
<line x1="619.20" y1="383.75" x2="614.70" y2="383.75" stroke="#222" stroke-width="1.2" />
<line x1="385.20" y1="375.12" x2="389.70" y2="375.12" stroke="#222" stroke-width="1.2" />
<line x1="619.20" y1="375.12" x2="614.70" y2="375.12" stroke="#222" stroke-width="1.2" />
<line x1="385.20" y1="366.49" x2="389.70" y2="366.49" stroke="#222" stroke-width="1.2" />
<line x1="619.20" y1="366.49" x2="614.70" y2="366.49" stroke="#222" stroke-width="1.2" />
<line x1="385.20" y1="357.86" x2="389.70" y2="357.86" stroke="#222" stroke-width="1.2" />
<line x1="619.20" y1="357.86" x2="614.70" y2="357.86" stroke="#222" stroke-width="1.2" />
<line x1="385.20" y1="349.23" x2="389.70" y2="349.23" stroke="#222" stroke-width="1.2" />
<line x1="619.20" y1="349.23" x2="614.70" y2="349.23" stroke="#222" stroke-width="1.2" />
<line x1="385.20" y1="340.60" x2="389.70" y2="340.60" stroke="#222" stroke-width="1.2" />
<line x1="619.20" y1="340.60" x2="614.70" y2="340.60" stroke="#222" stroke-width="1.2" />
<line x1="385.20" y1="331.97" x2="389.70" y2="331.97" stroke="#222" stroke-width="1.2" />
<line x1="619.20" y1="331.97" x2="614.70" y2="331.97" stroke="#222" stroke-width="1.2" />
<line x1="385.20" y1="323.34" x2="389.70" y2="323.34" stroke="#222" stroke-width="1.2" />
<line x1="619.20" y1="323.34" x2="614.70" y2="323.34" stroke="#222" stroke-width="1.2" />
<line x1="385.20" y1="314.71" x2="389.70" y2="314.71" stroke="#222" stroke-width="1.2" />
<line x1="619.20" y1="314.71" x2="614.70" y2="314.71" stroke="#222" stroke-width="1.2" />
<line x1="385.20" y1="306.08" x2="389.70" y2="306.08" stroke="#222" stroke-width="1.2" />
<line x1="619.20" y1="306.08" x2="614.70" y2="306.08" stroke="#222" stroke-width="1.2" />
<line x1="385.20" y1="297.45" x2="389.70" y2="297.45" stroke="#222" stroke-width="1.2" />
<line x1="619.20" y1="297.45" x2="614.70" y2="297.45" stroke="#222" stroke-width="1.2" />
<line x1="385.20" y1="288.82" x2="389.70" y2="288.82" stroke="#222" stroke-width="1.2" />
<line x1="619.20" y1="288.82" x2="614.70" y2="288.82" stroke="#222" stroke-width="1.2" />
<line x1="385.20" y1="280.19" x2="389.70" y2="280.19" stroke="#222" stroke-width="1.2" />
<line x1="619.20" y1="280.19" x2="614.70" y2="280.19" stroke="#222" stroke-width="1.2" />
<line x1="385.20" y1="271.56" x2="389.70" y2="271.56" stroke="#222" stroke-width="1.2" />
<line x1="619.20" y1="271.56" x2="614.70" y2="271.56" stroke="#222" stroke-width="1.2" />
<line x1="385.20" y1="262.93" x2="389.70" y2="262.93" stroke="#222" stroke-width="1.2" />
<line x1="619.20" y1="262.93" x2="614.70" y2="262.93" stroke="#222" stroke-width="1.2" />
<text x="386.00" y="444.60" font-size="14" font-weight="bold" text-anchor="middle" fill="#000" >20</text>
<text x="415.25" y="444.60" font-size="14" font-weight="bold" text-anchor="middle" fill="#000" >22</text>
<text x="444.50" y="444.60" font-size="14" font-weight="bold" text-anchor="middle" fill="#000" >24</text>
<text x="473.75" y="444.60" font-size="14" font-weight="bold" text-anchor="middle" fill="#000" >26</text>
<text x="503.00" y="444.60" font-size="14" font-weight="bold" text-anchor="middle" fill="#000" >28</text>
<text x="532.25" y="444.60" font-size="14" font-weight="bold" text-anchor="middle" fill="#000" >30</text>
<text x="561.50" y="444.60" font-size="14" font-weight="bold" text-anchor="middle" fill="#000" >32</text>
<text x="590.75" y="444.60" font-size="14" font-weight="bold" text-anchor="middle" fill="#000" >34</text>
<text x="620.00" y="444.60" font-size="14" font-weight="bold" text-anchor="middle" fill="#000" >36</text>
<text x="361.56" y="431.40" font-size="13.4" font-weight="bold" text-anchor="start" fill="#000" >10</text>
<text x="376.46" y="424.10" font-size="8.7" font-weight="bold" text-anchor="start" fill="#000" >0</text>
<text x="361.56" y="388.25" font-size="13.4" font-weight="bold" text-anchor="start" fill="#000" >10</text>
<text x="376.46" y="380.95" font-size="8.7" font-weight="bold" text-anchor="start" fill="#000" >5</text>
<text x="356.72" y="345.10" font-size="13.4" font-weight="bold" text-anchor="start" fill="#000" >10</text>
<text x="371.63" y="337.80" font-size="8.7" font-weight="bold" text-anchor="start" fill="#000" >10</text>
<text x="356.72" y="301.95" font-size="13.4" font-weight="bold" text-anchor="start" fill="#000" >10</text>
<text x="371.63" y="294.65" font-size="8.7" font-weight="bold" text-anchor="start" fill="#000" >15</text>
<text x="356.72" y="258.80" font-size="13.4" font-weight="bold" text-anchor="start" fill="#000" >10</text>
<text x="371.63" y="251.50" font-size="8.7" font-weight="bold" text-anchor="start" fill="#000" >20</text>
<text x="506.40" y="467.60" font-size="15" font-weight="normal" text-anchor="middle" fill="#000" >1/kT (1/eV)</text>
<text x="347.60" y="338.50" font-size="15" font-weight="normal" text-anchor="middle" fill="#000" transform="rotate(-90 347.60 338.50)" >Pulse Cycle (#)</text>
</svg></body></html>
